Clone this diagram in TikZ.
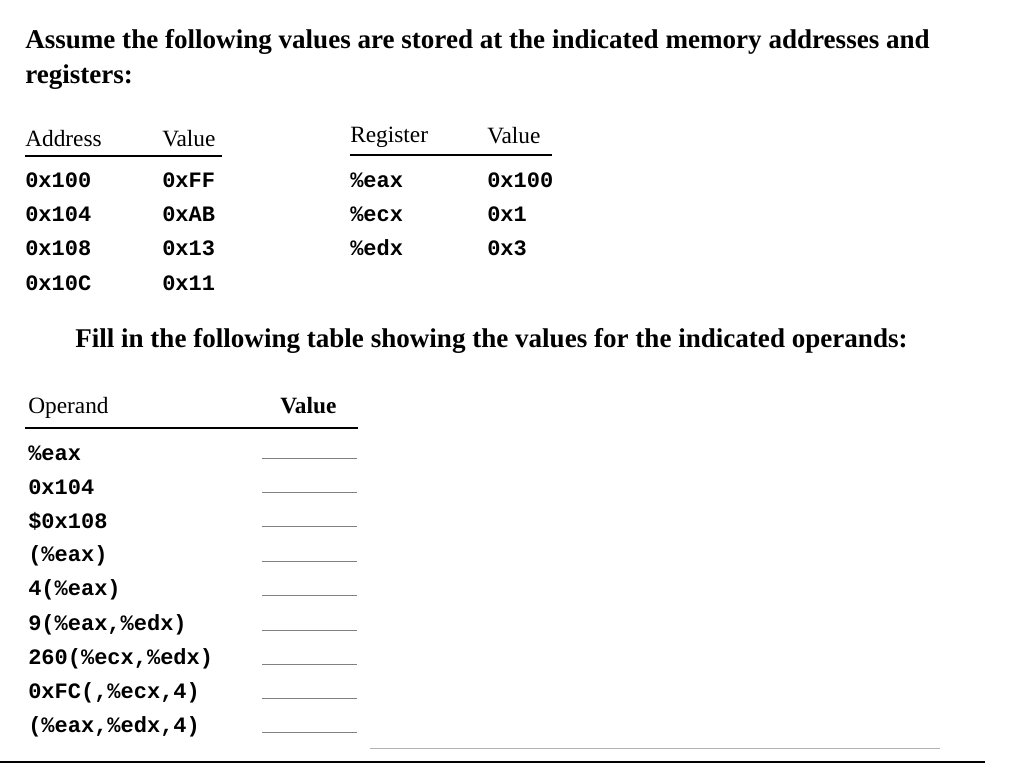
\documentclass[tikz,border=0pt]{standalone}
\usepackage{fontspec}
\setmainfont{Liberation Serif}
\newfontfamily\cmono{Liberation Mono}
\begin{document}
\begin{tikzpicture}[x=0.75pt,y=-0.75pt,
  txt/.style={anchor=west,inner sep=0pt,font=\fontsize{20.3}{22}\selectfont\bfseries},
  hdr/.style={anchor=west,inner sep=0pt,font=\fontsize{17.5}{20}\selectfont},
  mono/.style={anchor=west,inner sep=0pt,font=\fontsize{16.5}{18}\selectfont\cmono\bfseries},
  rule/.style={line width=1pt},
  blank/.style={line width=0.6pt,gray}]
\useasboundingbox (0,0) rectangle (1024,772);
\node[txt] (t1) at (25,42) {Assume the following values are stored at the indicated memory addresses and};
\node[txt] (t2) at (25,77) {registers:};
\node[hdr] (ha) at (25,139) {Address};
\node[hdr] (hv) at (162,139) {Value};
\draw[rule] (25,156) -- (222,156);
\node[hdr] (hr) at (350,137) {Register};
\node[hdr] (hv2) at (487,136) {Value};
\draw[rule] (350,155) -- (552,155);
\foreach \a/\v/\y in {0x100/0xFF/180,0x104/0xAB/214,0x108/0x13/248,0x10C/0x11/283}{
  \node[mono] at (25,\y) {\a};
  \node[mono] at (162,\y) {\v};}
\foreach \r/\v/\y in {\%eax/0x100/180,\%ecx/0x1/214,\%edx/0x3/248}{
  \node[mono] at (350,\y) {\r};
  \node[mono] at (487,\y) {\v};}
\node[txt] (fill) at (75,341) {Fill in the following table showing the values for the indicated operands:};
\node[hdr] (ho) at (28,408) {Operand};
\node[hdr,font=\fontsize{17.5}{20}\selectfont\bfseries] (hv3) at (280,406) {Value};
\draw[rule] (25,428) -- (358,428);
\foreach \o/\y in {\%eax/453,0x104/487,\$0x108/521,(\%eax)/556,4(\%eax)/590,9(\%eax{,}\%edx)/625,260(\%ecx{,}\%edx)/659,0xFC({,}\%ecx{,}4)/693,(\%eax{,}\%edx{,}4)/727}{
  \node[mono] at (28,\y) {\o};
  \draw[blank] (262,\y+5) -- (357,\y+5);}
\draw[line width=0.5pt,gray!60] (370,748) -- (940,748);
\draw[line width=1.5pt] (0,762) -- (985,762);
\end{tikzpicture}
\end{document}
